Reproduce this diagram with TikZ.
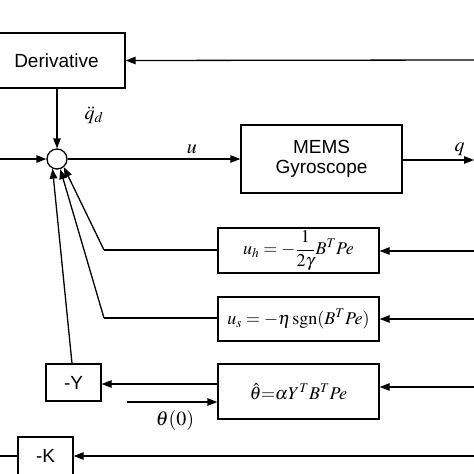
\documentclass[tikz,border=0pt]{standalone}
\usepackage{amsmath}
\usepackage{mathptmx}
\usepackage[no-math]{fontspec}
\setmainfont{Liberation Sans}
\usetikzlibrary{arrows.meta}
\begin{document}
\begin{tikzpicture}[x=1pt,y=-1pt,
  >={Triangle[length=10pt,width=7.5pt]},
  line width=1.3pt,
  blk/.style={draw, line width=1.3pt, inner sep=0pt, font=\fontsize{19}{22}\selectfont, align=center},
  mth/.style={draw, line width=1.3pt, inner sep=0pt, font=\fontsize{18}{21}\selectfont},
  lbl/.style={inner sep=0pt, font=\fontsize{20}{23}\selectfont}]
\useasboundingbox (0,0) rectangle (474,474);
\clip (0,0) rectangle (474,474);
% blocks
\node[blk, minimum width=137pt, minimum height=55pt] (der) at (56.5,60.5) {Derivative};
\node[draw, circle, line width=1.3pt, minimum size=20pt, inner sep=0pt] (sum) at (57,159) {};
\node[blk, minimum width=161pt, minimum height=68pt] (mems) at (321.5,159) {MEMS\\[-2pt]Gyroscope};
\node[mth, minimum width=161pt, minimum height=45pt] (uh) at (298.5,250.5) {$u_h=-\dfrac{1}{2\gamma}B^{T}Pe$};
\node[mth, minimum width=161pt, minimum height=44pt] (us) at (298.5,319) {$u_s=-\eta\,\mathrm{sgn}(B^{T}Pe)$};
\node[mth, minimum width=161pt, minimum height=55pt] (th) at (298.5,391.5) {$\hat{\theta}{=}\alpha Y^{T}B^{T}Pe$};
\node[blk, minimum width=55pt, minimum height=37pt] (my) at (73.5,382.5) {-Y};
\node[blk, minimum width=55pt, minimum height=38pt] (mk) at (45.5,456) {-K};
% free ends
\coordinate (inL) at (0,159);
\coordinate (qR) at (474,160);
\coordinate (dR) at (474,60);
\coordinate (uhR) at (474,251);
\coordinate (usR) at (474,319);
\coordinate (thR) at (474,387);
\coordinate (kR) at (474,456);
\coordinate (kL) at (0,456);
\coordinate (uhC) at (104,250);
\coordinate (usC) at (104,318);
\coordinate (t0) at (127,402);
% connectors
\draw[->] (dR) -- (der.east);
\draw[->] (der.south -| sum.north) -- (sum.north);
\draw[->] (inL) -- (sum.west);
\draw[->] (sum.east) -- node[lbl, above=5pt, pos=0.72] {$u$} (mems.west);
\draw[->] (mems.east |- qR) -- node[lbl, above=4pt, pos=0.8] {$q$} (qR);
\draw[->] (uhR) -- (uh.east |- uhR);
\draw[->] (usR) -- (us.east |- usR);
\draw[->] (thR) -- (th.east |- thR);
\draw[->] (kR) -- (mk.east |- kR);
\draw (mk.west |- kL) -- (kL);
\draw (uh.west |- uhC) -- (uhC);
\draw[->] (uhC) -- (sum.-50);
\draw (us.west |- usC) -- (usC);
\draw[->] (usC) -- (sum.-72);
\draw[->] (my.north -| 72,0) -- (sum.-115);
\draw[->] (th.west |- 0,384) -- (my.east |- 0,384);
\draw[->] (t0) -- (th.west |- t0);
\node[lbl] (qdd) at (94,115) {$\ddot{q}_{d}$};
\node[lbl] (t0l) at (175,420) {$\theta(0)$};
\end{tikzpicture}
\end{document}
